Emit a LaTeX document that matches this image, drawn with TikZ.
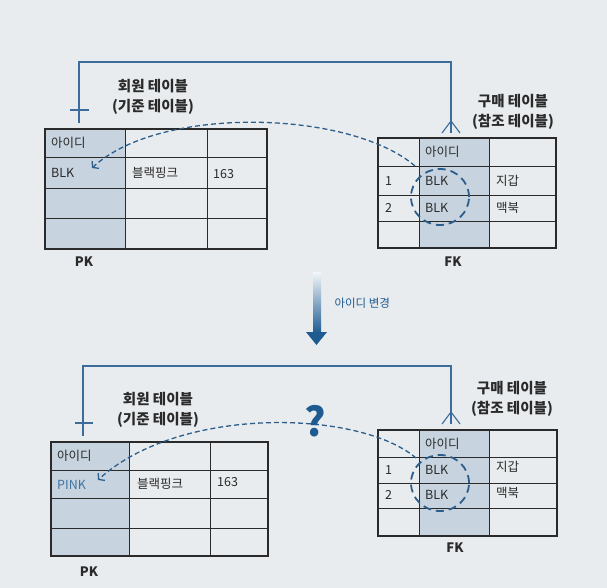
\documentclass[tikz,border=0pt]{standalone}
\usepackage{fontspec}
\setmainfont{Noto Sans CJK KR}
\usetikzlibrary{arrows.meta,shapes.geometric}
\definecolor{page}{HTML}{E9ECEE}
\definecolor{keycell}{HTML}{C7D4DF}
\definecolor{linkblue}{HTML}{3B6C9C}
\definecolor{dashblue}{HTML}{2D5E8B}
\definecolor{darkblue}{HTML}{1D5B91}
\definecolor{inkgray}{HTML}{2A2A2A}
\tikzset{
  cell/.style={anchor=west,inner sep=0pt,text=inkgray,font=\fontsize{12.5}{12.5}\selectfont},
  title/.style={align=center,text=inkgray,font=\bfseries\fontsize{14.5}{19.5}\selectfont},
  keylabel/.style={text=inkgray,font=\bfseries\fontsize{13}{13}\selectfont},
  grid/.style={draw=inkgray,line width=0.9pt},
  frame/.style={draw=inkgray,line width=1.5pt},
  rel/.style={linkblue,line width=1.1pt},
  ref/.style={dashblue,line width=1.3pt,dash pattern=on 5pt off 3pt},
  fkring/.style={draw=dashblue,ellipse,line width=1.8pt,dash pattern=on 8pt off 5pt,
    minimum width=58pt,minimum height=56pt,inner sep=0pt},
}
\begin{document}
\begin{tikzpicture}[x=1pt,y=-1pt]
\useasboundingbox (0,0) rectangle (607,588);
\fill[page] (0,0) rectangle (607,588);

% before the change: member table
\fill[keycell] (45,129) rectangle (125,249);
\foreach \y in {157,188,218} \draw[grid] (45,\y) -- (267,\y);
\foreach \x in {125,207} \draw[grid] (\x,129) -- (\x,249);
\draw[frame] (45,129) rectangle (267,249);
\node[cell] (idA) at (51,143) {아이디};
\node[cell] (blkA) at (51,173) {BLK};
\node[cell] (nameA) at (132,173) {블랙핑크};
\node[cell] (tallA) at (213,174) {163};
\node[keylabel] (pkA) at (84,262) {PK};
\node[title] (memA) at (153,97) {회원 테이블\\(기준 테이블)};

% buy table
\fill[keycell] (419,138) rectangle (489,248);
\foreach \y in {166,195,221} \draw[grid] (378,\y) -- (556,\y);
\foreach \x in {419,489} \draw[grid] (\x,138) -- (\x,248);
\draw[frame] (378,138) rectangle (556,248);
\node[cell] (idB) at (425,152) {아이디};
\node[cell] (no1B) at (385,181) {1};
\node[cell] (blk1B) at (425,181) {BLK};
\node[cell] (item1B) at (496,181) {지갑};
\node[cell] (no2B) at (385,208) {2};
\node[cell] (blk2B) at (425,208) {BLK};
\node[cell] (item2B) at (496,208) {맥북};
\node[keylabel] (fkB) at (453,262) {FK};
\node[title] (buyB) at (513,112) {구매 테이블\\(참조 테이블)};
\node[fkring] (ringB) at (440,197) {};

% one-to-many line
\coordinate (oneA) at (79,123);
\coordinate (manyB) at (451,133);
\draw[rel] (oneA) -- (79,62) -| (manyB);
\draw[rel] (70,110) -- (89,110);
\draw[rel] (442,133) -- (451,121) -- (460,133);

% reference
\coordinate (fromB) at (415,166);
\coordinate (tipA) at (92,168);
\draw[ref,-{Straight Barb[length=4pt,width=10pt]}] (fromB) .. controls (350,110) and (160,105) .. (tipA);

% change arrow
\shade[top color=darkblue!5,middle color=darkblue!70,bottom color=darkblue] (313,272) rectangle (321,333);
\fill[darkblue] (306,332) -- (327,332) -- (316.5,345) -- cycle;
\node[anchor=west,text=darkblue,font=\fontsize{11.5}{11.5}\selectfont] (chg) at (331,303) {아이디 변경};

% after the change: member table
\fill[keycell] (51,442) rectangle (129,556);
\foreach \y in {470,498,528} \draw[grid] (51,\y) -- (268,\y);
\foreach \x in {129,210} \draw[grid] (\x,442) -- (\x,556);
\draw[frame] (51,442) rectangle (268,556);
\node[cell] (idC) at (57,456) {아이디};
\node[cell,text=darkblue!85] (pinkC) at (57,485) {PINK};
\node[cell] (nameC) at (137,484) {블랙핑크};
\node[cell] (tallC) at (217,482) {163};
\node[keylabel] (pkC) at (89,572) {PK};
\node[title] (memC) at (158,410) {회원 테이블\\(기준 테이블)};

% buy table
\fill[keycell] (419,430) rectangle (489,536);
\foreach \y in {457,483,508} \draw[grid] (378,\y) -- (557,\y);
\foreach \x in {419,489} \draw[grid] (\x,430) -- (\x,536);
\draw[frame] (378,430) rectangle (557,536);
\node[cell] (idD) at (425,444) {아이디};
\node[cell] (no1D) at (385,470) {1};
\node[cell] (blk1D) at (425,470) {BLK};
\node[cell] (item1D) at (496,467) {지갑};
\node[cell] (no2D) at (385,495) {2};
\node[cell] (blk2D) at (425,495) {BLK};
\node[cell] (item2D) at (496,493) {맥북};
\node[keylabel] (fkD) at (455,548) {FK};
\node[title] (buyD) at (512,399) {구매 테이블\\(참조 테이블)};
\node[fkring] (ringD) at (440,483) {};

% one-to-many line
\coordinate (oneC) at (83,436);
\coordinate (manyD) at (451,424);
\draw[rel] (oneC) -- (83,366) -| (manyD);
\draw[rel] (75,423) -- (93,423);
\draw[rel] (442,424) -- (451,412) -- (460,424);

% broken reference
\coordinate (fromD) at (416,458);
\coordinate (tipC) at (98,480);
\draw[ref,-{Straight Barb[length=4pt,width=10pt]}] (fromD) .. controls (360,410) and (180,405) .. (tipC);
\node[text=darkblue,font=\bfseries\fontsize{40}{40}\selectfont] (ask) at (315,421) {?};
\end{tikzpicture}
\end{document}
